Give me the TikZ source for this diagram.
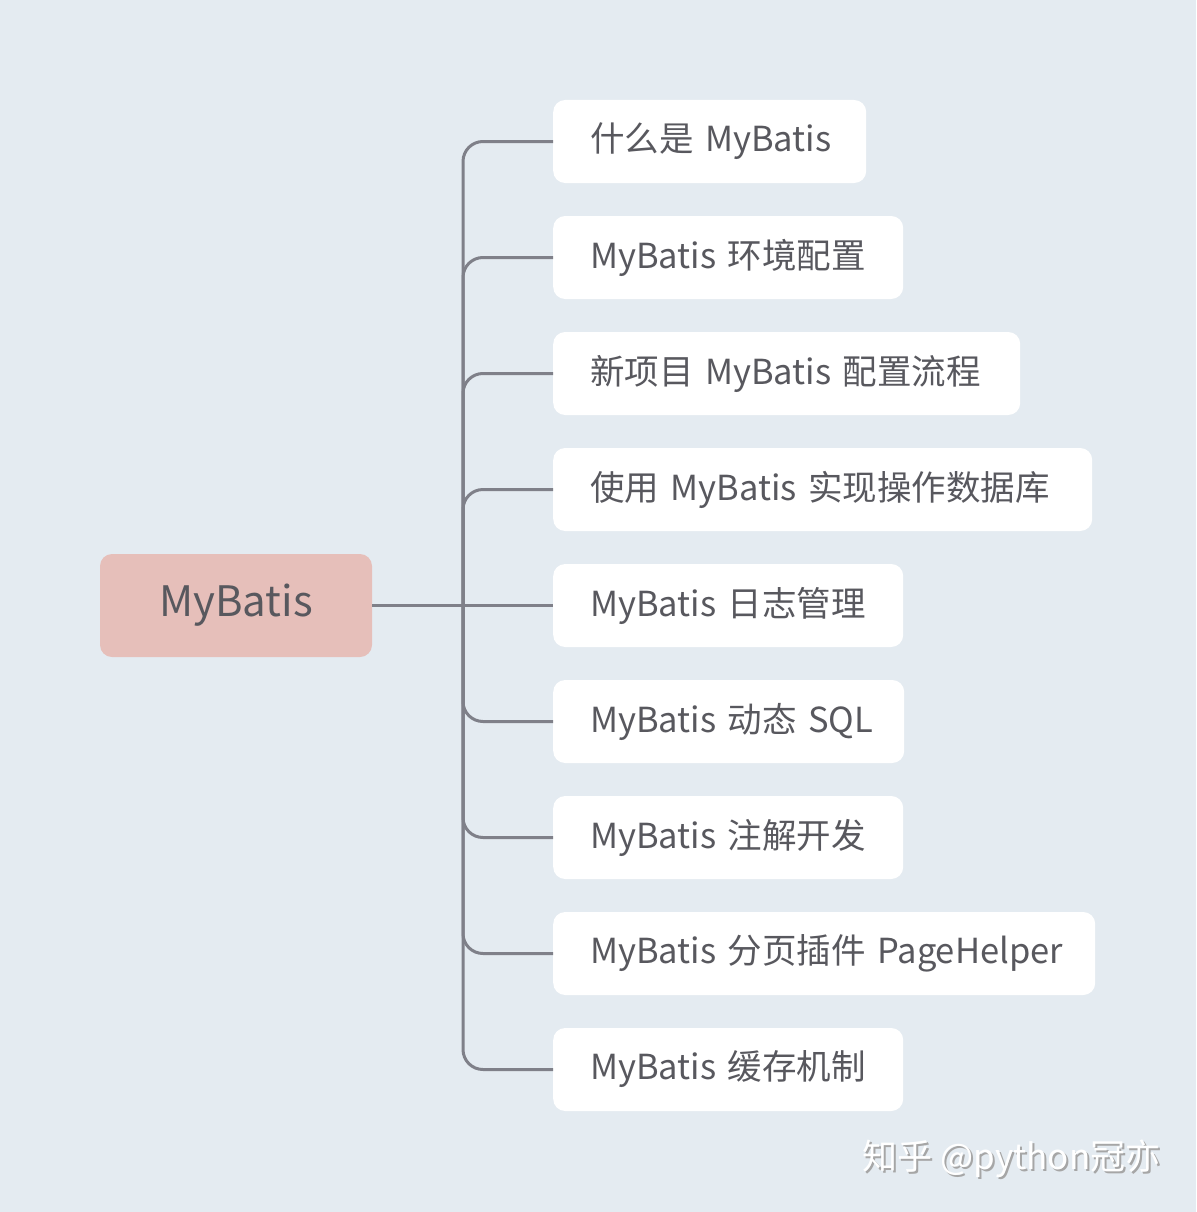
\documentclass[tikz,border=0pt]{standalone}
\usepackage{fontspec}
\setmainfont{Noto Sans CJK SC}
\usepackage{tikz}
\usetikzlibrary{positioning,backgrounds}

\definecolor{bgblue}{RGB}{228,235,241}
\definecolor{rootpink}{RGB}{230,191,186}
\definecolor{linegray}{RGB}{127,128,137}
\definecolor{textgray}{RGB}{88,88,94}

\tikzset{
  root/.style={fill=rootpink, rounded corners=12pt, minimum width=272pt, minimum height=103pt,
    text=textgray, font=\fontsize{42}{50}\selectfont, inner sep=0pt},
  topic/.style={fill=white, rounded corners=12pt, anchor=west, minimum height=83pt,
    inner xsep=37pt, inner ysep=0pt, text width=#1, align=left,
    execute at begin node=\hbox\bgroup, execute at end node=\egroup,
    text=textgray, font=\fontsize{34.5}{42}\selectfont},
  branch/.style={draw=linegray, line width=3pt},
}

\begin{document}
\begin{tikzpicture}[x=1pt,y=-1pt]
\fill[bgblue] (0,0) rectangle (1196,1212);
\useasboundingbox (0,0) rectangle (1196,1212);

\node[root] (root) at (236,605.5) {MyBatis};

\node[topic=239pt] (t1) at (553,141.5) {什么是 MyBatis};
\node[topic=276pt] (t2) at (553,257.5) {MyBatis 环境配置};
\node[topic=393pt] (t3) at (553,373.5) {新项目 MyBatis 配置流程};
\node[topic=465pt] (t4) at (553,489.5) {使用 MyBatis 实现操作数据库};
\node[topic=276pt] (t5) at (553,605.5) {MyBatis 日志管理};
\node[topic=277pt] (t6) at (553,721.5) {MyBatis 动态 SQL};
\node[topic=276pt] (t7) at (553,837.5) {MyBatis 注解开发};
\node[topic=468pt] (t8) at (553,953.5) {MyBatis 分页插件 PageHelper};
\node[topic=276pt] (t9) at (553,1069.5) {MyBatis 缓存机制};

% trunk and branches
\coordinate (fork) at (463,605.5);
\draw[branch] (root.east) -- (t5.west);
\foreach \i in {1,2,3,4,6,7,8,9}
  \draw[branch, rounded corners=20pt] (fork) |- (t\i.west);

% watermark
\node[text=black!35, font=\fontsize{35}{42}\selectfont] (markshadow) at (1013.5,1161) {知乎 @python冠亦};
\node[text=white, font=\fontsize{35}{42}\selectfont] (mark) at (1011.5,1159) {知乎 @python冠亦};
\end{tikzpicture}
\end{document}
